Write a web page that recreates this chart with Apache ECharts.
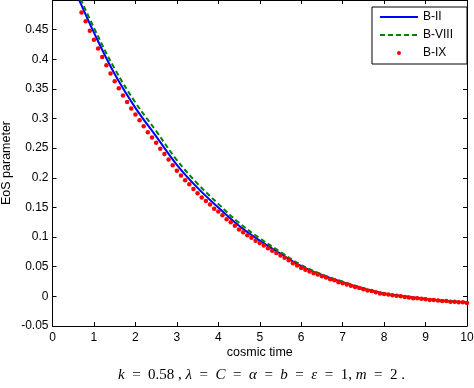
<!DOCTYPE html>
<html>
<head>
<meta charset="utf-8">
<script src="https://cdn.jsdelivr.net/npm/echarts@6/dist/echarts.min.js"></script>
<style>html,body{margin:0;padding:0;background:#fff}#c{width:474px;height:388px}</style>
</head>
<body>
<div id="c"></div>
<script>
// Series names
const seriesNames = ['B-II', 'B-VIII', 'B-IX'];
// B-II (solid blue): cosmic time / EoS parameter
const tII = [0.6, 1.0, 1.5, 2.0, 2.5, 3.0, 3.5, 4.0, 4.5, 5.0, 5.5, 6.0, 6.5, 7.0, 7.5, 8.0, 8.5, 9.0, 9.5, 10.0];
const vII = [0.507, 0.445, 0.375, 0.318, 0.270, 0.222, 0.183, 0.150, 0.119, 0.094, 0.072, 0.051, 0.036, 0.024, 0.013, 0.005, 0.000, -0.004, -0.008, -0.010];
// B-VIII (dashed green)
const tVIII = [0.6, 1.0, 1.5, 2.0, 2.5, 3.0, 3.5, 4.0, 4.5, 5.0, 5.5, 6.0, 6.5, 7.0, 7.5, 8.0, 8.5, 9.0, 9.5, 10.0];
const vVIII = [0.514, 0.453, 0.384, 0.327, 0.279, 0.230, 0.190, 0.156, 0.124, 0.098, 0.075, 0.053, 0.037, 0.025, 0.014, 0.005, 0.000, -0.004, -0.008, -0.010];
// B-IX (red dots)
const tIX = [0.7, 0.8, 0.9, 1.0, 1.1, 1.2, 1.3, 1.4, 1.5, 1.6, 1.7, 1.8, 1.9, 2.0, 2.1, 2.2, 2.3, 2.4, 2.5, 2.6, 2.7, 2.8, 2.9, 3.0,
  3.1, 3.2, 3.3, 3.4, 3.5, 3.6, 3.7, 3.8, 3.9, 4.0, 4.1, 4.2, 4.3, 4.4, 4.5, 4.6, 4.7, 4.8, 4.9, 5.0,
  5.1, 5.2, 5.3, 5.4, 5.5, 5.6, 5.7, 5.8, 5.9, 6.0, 6.1, 6.2, 6.3, 6.4, 6.5, 6.6, 6.7, 6.8, 6.9, 7.0,
  7.1, 7.2, 7.3, 7.4, 7.5, 7.6, 7.7, 7.8, 7.9, 8.0, 8.1, 8.2, 8.3, 8.4, 8.5, 8.6, 8.7, 8.8, 8.9, 9.0,
  9.1, 9.2, 9.3, 9.4, 9.5, 9.6, 9.7, 9.8, 9.9, 10.0];
const vIX = [0.479, 0.464, 0.448, 0.433, 0.418, 0.404, 0.390, 0.376, 0.363, 0.351, 0.339, 0.328, 0.317, 0.307, 0.297, 0.287, 0.277, 0.268, 0.259, 0.249, 0.240, 0.231, 0.221, 0.212,
  0.204, 0.196, 0.189, 0.181, 0.174, 0.167, 0.161, 0.155, 0.148, 0.143, 0.137, 0.130, 0.125, 0.119, 0.113, 0.108, 0.103, 0.099, 0.094, 0.090,
  0.086, 0.081, 0.077, 0.073, 0.069, 0.065, 0.061, 0.056, 0.052, 0.048, 0.045, 0.042, 0.039, 0.037, 0.034, 0.032, 0.029, 0.027, 0.024, 0.022,
  0.020, 0.018, 0.016, 0.014, 0.012, 0.010, 0.009, 0.007, 0.005, 0.004, 0.003, 0.002, 0.001, 0.000, -0.001, -0.002, -0.003, -0.003, -0.004, -0.005,
  -0.006, -0.006, -0.007, -0.008, -0.008, -0.009, -0.009, -0.010, -0.010, -0.011];
// Axis settings
const xTitle = 'cosmic time';
const yTitle = 'EoS parameter';
const xMin = 0, xMax = 10, xStep = 1;
const yMin = -0.05, yMax = 0.5, yStep = 0.05;

const zip = (a, b) => a.map((x, i) => [x, b[i]]);
const font = 'Liberation Sans, Arial, Helvetica, sans-serif';
const chart = echarts.init(document.getElementById('c'), null, {renderer: 'canvas'});

const axLine = {show: true, onZero: false, lineStyle: {color: '#000', width: 1}};
const axTick = {show: true, inside: true, length: 4, lineStyle: {color: '#000', width: 1}};

chart.setOption({
  animation: false,
  backgroundColor: '#fff',
  grid: {left: 52.5, right: 7, top: 0, bottom: 62, containLabel: false, outerBoundsMode: 'none'},
  xAxis: [
    {type: 'value', min: xMin, max: xMax, interval: xStep, position: 'bottom',
     name: xTitle, nameLocation: 'middle', nameGap: 20, nameMoveOverlap: false,
     nameTextStyle: {fontFamily: font, fontSize: 12.5, color: '#000'},
     axisLine: axLine, axisTick: axTick, splitLine: {show: false},
     axisLabel: {fontFamily: font, fontSize: 12, color: '#000', margin: 6}},
    {type: 'value', min: xMin, max: xMax, interval: xStep, position: 'top',
     axisLine: axLine, axisTick: axTick, splitLine: {show: false}, axisLabel: {show: false}}
  ],
  yAxis: [
    {type: 'value', min: yMin, max: yMax, interval: yStep, position: 'left',
     name: yTitle, nameLocation: 'middle', nameGap: 39, nameMoveOverlap: false,
     nameTextStyle: {fontFamily: font, fontSize: 12.5, color: '#000'},
     axisLine: axLine, axisTick: axTick, splitLine: {show: false},
     axisLabel: {fontFamily: font, fontSize: 12, color: '#000', margin: 4, showMaxLabel: false,
       formatter: v => String(Math.round(v * 100) / 100)}},
    {type: 'value', min: yMin, max: yMax, interval: yStep, position: 'right',
     axisLine: axLine, axisTick: axTick, splitLine: {show: false}, axisLabel: {show: false}}
  ],
  legend: {
    data: [
      {name: seriesNames[0], itemStyle: {opacity: 0}},
      {name: seriesNames[1], itemStyle: {opacity: 0}},
      {name: seriesNames[2]}
    ],
    orient: 'vertical', right: 7, top: 7,
    backgroundColor: '#fff', borderColor: '#000', borderWidth: 1,
    padding: [4, 14, 5, 7], itemGap: 6, itemWidth: 38, itemHeight: 5,
    textStyle: {fontFamily: font, fontSize: 12, color: '#000'}
  },
  series: [
    {name: seriesNames[0], type: 'line', data: zip(tII, vII), smooth: 0.4, symbol: 'none',
     lineStyle: {color: '#0000ff', width: 2}, itemStyle: {color: '#0000ff'}, clip: true},
    {name: seriesNames[1], type: 'line', data: zip(tVIII, vVIII), smooth: 0.4, symbol: 'none',
     lineStyle: {color: '#008000', width: 2, type: [5, 3]}, itemStyle: {color: '#008000'}, clip: true},
    {name: seriesNames[2], type: 'line', data: zip(tIX, vIX), symbol: 'circle', symbolSize: 4.5, showSymbol: true,
     lineStyle: {opacity: 0, width: 0}, itemStyle: {color: '#ff0000'}, clip: true}
  ],
  graphic: [{
    type: 'text', left: 118, top: 368,
    style: {
      text: '{i|k}  =  0.58 , {g|λ}  =  {i|C}  =  {g|α}  =  {i|b}  =  {g|ε}  =  1, {i|m}  =  2 .',
      font: '15px "Liberation Serif", "DejaVu Serif", serif', fill: '#000',
      rich: {
        i: {fontStyle: 'italic', fontFamily: 'Liberation Serif', fontSize: 15},
        g: {fontStyle: 'italic', fontFamily: 'Liberation Serif', fontSize: 15}
      }
    }
  }]
});
</script>
</body>
</html>
